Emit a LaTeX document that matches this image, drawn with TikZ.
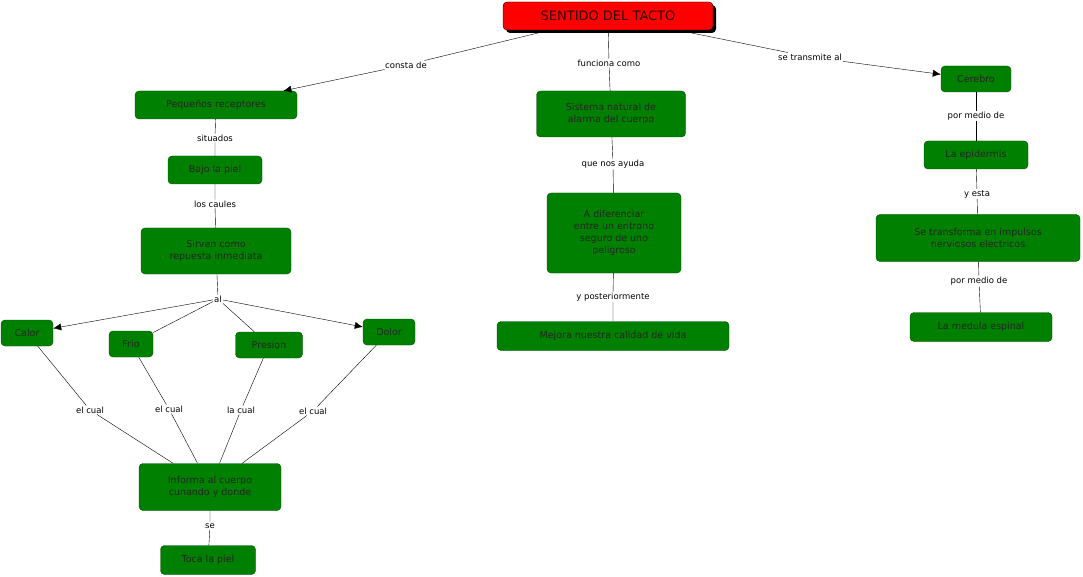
\documentclass[tikz,border=0pt]{standalone}
\usepackage{fontspec}
\setmainfont{DejaVu Sans}
\usetikzlibrary{shadows}
\definecolor{cg}{RGB}{0,128,0}
\begin{document}
\begin{tikzpicture}[x=1pt,y=-1pt,
 c/.style={draw=black!70!green,fill=cg,rounded corners=4pt,align=center,font=\fontsize{9.5}{12}\selectfont,text=black!85,inner sep=0pt,minimum height=#1},
 c/.default=28pt,
 l/.style={fill=white,inner sep=1pt,font=\fontsize{8.5}{10}\selectfont},
 ar/.style={-{Latex[length=8pt,width=7pt]}}]
\usetikzlibrary{arrows.meta}
\useasboundingbox (0,0) rectangle (1083,577);
\node[draw=black,fill=red,rounded corners=4pt,minimum width=210pt,minimum height=28pt,inner sep=0pt,font=\fontsize{13}{15}\selectfont,text=black!80!red,drop shadow={shadow xshift=3pt,shadow yshift=-3pt,fill=black,opacity=1}] (t) at (608,16) {SENTIDO DEL TACTO};
\node[c,minimum width=162pt] (pr) at (216,105) {Pequeños receptores};
\node[c,minimum width=94pt] (bp) at (215,170) {Bajo la piel};
\node[c=46pt,minimum width=150pt] (sc) at (216,251) {Sirven como\\repuesta inmediata};
\node[c=26pt,minimum width=52pt] (ca) at (27,333) {Calor};
\node[c=26pt,minimum width=44pt] (fr) at (131,344) {Frio};
\node[c=26pt,minimum width=67pt] (pe) at (269,345) {Presion};
\node[c=26pt,minimum width=52pt] (do) at (389,332) {Dolor};
\node[c=47pt,minimum width=142pt] (in) at (210,487) {Informa al cuerpo\\cunando y donde};
\node[c=29pt,minimum width=95pt] (tp) at (208,560) {Toca la piel};
\node[c=46pt,minimum width=149pt] (sn) at (611,114) {Sistema natural de\\alarma del cuerpo};
\node[c=80pt,minimum width=134pt] (ad) at (614,233) {A diferenciar\\entre un entrono\\seguro de uno\\peligroso};
\node[c=29pt,minimum width=232pt] (me) at (613,336) {Mejora nuestra calidad de vida};
\node[c=26pt,minimum width=70pt] (ce) at (976,79) {Cerebro};
\node[c=28pt,minimum width=104pt] (ep) at (976,155) {La epidermis};
\node[c=47pt,minimum width=204pt] (st) at (978,238) {Se transforma en impulsos\\nerviosos electricos};
\node[c=29pt,minimum width=142pt] (ms) at (981,327) {La medula espinal};
% labels
\node[l] (l1) at (406,65) {consta de};
\node[l] (l2) at (609,63) {funciona como};
\node[l] (l3) at (810,57) {se transmite al};
\node[l] (l4) at (215,138) {situados};
\node[l] (l5) at (215,204) {los caules};
\node[l] (l6) at (218,299) {al};
\node[l] (l7) at (90,410) {el cual};
\node[l] (l8) at (169,409) {el cual};
\node[l] (l9) at (241,410) {la cual};
\node[l] (l10) at (313,411) {el cual};
\node[l] (l11) at (210,526) {se};
\node[l] (l12) at (613,164) {que nos ayuda};
\node[l] (l13) at (613,297) {y posteriormente};
\node[l] (l14) at (976,116) {por medio de};
\node[l] (l15) at (977,194) {y esta};
\node[l] (l16) at (979,281) {por medio de};
% connectors
\draw (t) -- (l1); \draw[ar] (l1) -- (pr);
\draw (t) -- (l2) -- (sn);
\draw (t) -- (l3); \draw[ar] (l3) -- (ce);
\draw (pr) -- (l4) -- (bp);
\draw (bp) -- (l5) -- (sc);
\draw (sc) -- (l6);
\draw[ar] (l6) -- (ca); \draw[ar] (l6) -- (do);
\draw (l6) -- (fr); \draw (l6) -- (pe);
\draw (ca) -- (l7) -- (in);
\draw (fr) -- (l8) -- (in);
\draw (pe) -- (l9) -- (in);
\draw (do) -- (l10) -- (in);
\draw (in) -- (l11) -- (tp);
\draw (sn) -- (l12) -- (ad);
\draw (ad) -- (l13) -- (me);
\draw (ce) -- (l14) -- (ep);
\draw (ep) -- (l15) -- (st);
\draw (st) -- (l16) -- (ms);
\end{tikzpicture}
\end{document}
